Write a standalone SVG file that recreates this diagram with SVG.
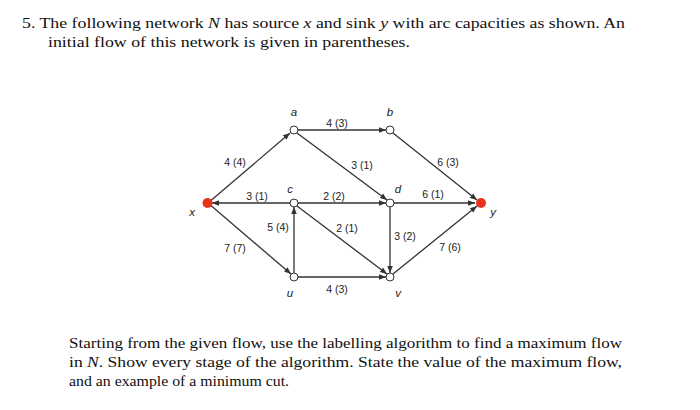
<svg xmlns="http://www.w3.org/2000/svg" width="700" height="410" viewBox="0 0 700 410">
<defs>
<marker id="ah" viewBox="0 0 10 10" refX="10" refY="5" markerWidth="7" markerHeight="7" orient="auto" markerUnits="userSpaceOnUse"><path d="M0,1 L10,5 L0,9 z" fill="#333"/></marker>
<style>
.e{stroke:#333;stroke-width:1.3;fill:none;marker-end:url(#ah)}
.n{fill:#fff;stroke:#333;stroke-width:1}
.r{fill:#e8321e}
.l{font-family:"Liberation Sans",Arial,sans-serif;font-size:10.5px;fill:#222;text-anchor:middle}
.i{font-style:italic;font-size:11.5px}
.t{font-family:"Liberation Serif","Times New Roman",serif;font-size:15.5px;fill:#111}
</style>
</defs>
<rect width="700" height="410" fill="#fff"/>
<text class="t" x="22" y="28" textLength="603" lengthAdjust="spacingAndGlyphs">5. The following network <tspan font-style="italic">N</tspan> has source <tspan font-style="italic">x</tspan> and sink <tspan font-style="italic">y</tspan> with arc capacities as shown. An</text>
<text class="t" x="48" y="47" textLength="362" lengthAdjust="spacingAndGlyphs">initial flow of this network is given in parentheses.</text>
<text class="t" x="69" y="348" textLength="553" lengthAdjust="spacingAndGlyphs">Starting from the given flow, use the labelling algorithm to find a maximum flow</text>
<text class="t" x="69" y="367" textLength="553" lengthAdjust="spacingAndGlyphs">in <tspan font-style="italic">N</tspan>. Show every stage of the algorithm. State the value of the maximum flow,</text>
<text class="t" x="69" y="386" textLength="220" lengthAdjust="spacingAndGlyphs">and an example of a minimum cut.</text>
<g id="connectors">
<line class="e" x1="208" y1="203" x2="290" y2="133"/>
<line class="e" x1="298" y1="130" x2="386" y2="130"/>
<line class="e" x1="393" y1="133" x2="477" y2="200"/>
<line class="e" x1="297" y1="133" x2="387" y2="200"/>
<line class="e" x1="290" y1="203" x2="212" y2="203"/>
<line class="e" x1="298" y1="203" x2="386" y2="203"/>
<line class="e" x1="394" y1="203" x2="475" y2="203"/>
<line class="e" x1="208" y1="203" x2="291" y2="274"/>
<line class="e" x1="294" y1="273" x2="294" y2="207"/>
<line class="e" x1="297" y1="206" x2="387" y2="274"/>
<line class="e" x1="390" y1="207" x2="390" y2="273"/>
<line class="e" x1="298" y1="277" x2="386" y2="277"/>
<line class="e" x1="393" y1="274" x2="477" y2="206"/>
</g>
<g id="x"><circle class="r" cx="207.5" cy="203" r="5"/><text class="l i" x="192" y="216">x</text></g>
<g id="y"><circle class="r" cx="481" cy="203" r="5"/><text class="l i" x="493" y="216">y</text></g>
<g id="a"><circle class="n" cx="294" cy="130" r="4"/><text class="l i" x="294" y="116">a</text></g>
<g id="b"><circle class="n" cx="390" cy="130" r="4"/><text class="l i" x="390" y="116">b</text></g>
<g id="c"><circle class="n" cx="294" cy="203" r="4"/><text class="l i" x="290" y="193">c</text></g>
<g id="d"><circle class="n" cx="390" cy="203" r="4"/><text class="l i" x="398" y="193">d</text></g>
<g id="u"><circle class="n" cx="294" cy="277" r="4"/><text class="l i" x="290" y="297">u</text></g>
<g id="v"><circle class="n" cx="390" cy="277" r="4"/><text class="l i" x="398" y="297">v</text></g>
<g id="labels">
<text class="l" x="235" y="166">4 (4)</text>
<text class="l" x="337" y="127">4 (3)</text>
<text class="l" x="362" y="169">3 (1)</text>
<text class="l" x="448" y="166">6 (3)</text>
<text class="l" x="257" y="200">3 (1)</text>
<text class="l" x="334" y="200">2 (2)</text>
<text class="l" x="433" y="198">6 (1)</text>
<text class="l" x="278" y="231">5 (4)</text>
<text class="l" x="347" y="232">2 (1)</text>
<text class="l" x="405" y="240">3 (2)</text>
<text class="l" x="235" y="252">7 (7)</text>
<text class="l" x="450" y="251">7 (6)</text>
<text class="l" x="337" y="293">4 (3)</text>
</g>
</svg>
